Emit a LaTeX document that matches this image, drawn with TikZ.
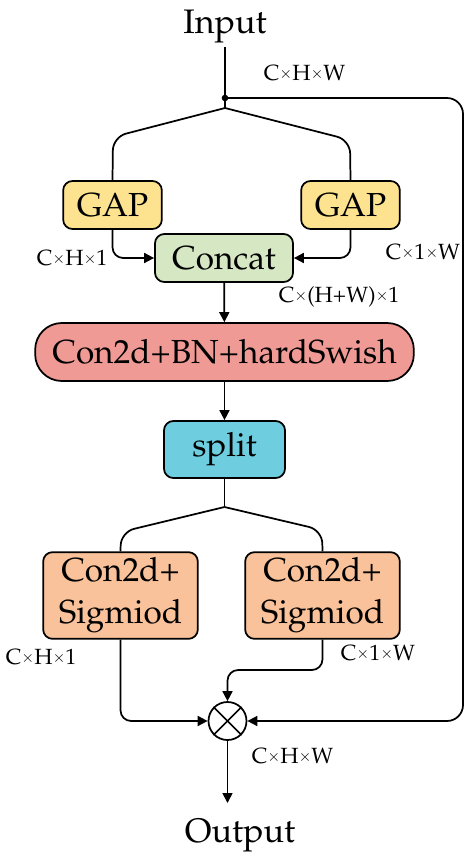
\documentclass[tikz,border=0pt]{standalone}
\usepackage[T1]{fontenc}
\usepackage{mathpazo}
\usepackage{graphicx}
\usepackage{tikz}
\usetikzlibrary{arrows.meta}
\newcommand{\dimsep}{\raisebox{0.12ex}{\scalebox{0.7}{$\times$}}}

\definecolor{gapfill}{HTML}{FDE28F}
\definecolor{catfill}{HTML}{D6E7C4}
\definecolor{convfill}{HTML}{EF9A94}
\definecolor{splitfill}{HTML}{6ECEDF}
\definecolor{sigfill}{HTML}{F9C29A}

\begin{document}
\begin{tikzpicture}[x=0.75pt, y=-0.75pt, line width=1.3pt,
    >={Triangle[length=7.5pt, width=7.5pt]},
    box/.style={draw, rounded corners=7pt, align=center, inner sep=0pt,
        font=\fontsize{25}{28}\selectfont},
    dims/.style={font=\fontsize{16.5}{18}\selectfont, anchor=base west, inner sep=0pt},
    io/.style={font=\fontsize{25.5}{28}\selectfont, anchor=base}]
    \useasboundingbox (0,0) rectangle (474,860);

    \node (In) [io] at (225,33) {Input};
    \fill (225,98) circle (3.3);
    \coordinate (Dot) at (225,98);
    \coordinate (Fork) at (225,108);

    \node (GapL) [box, fill=gapfill, minimum width=74pt, minimum height=36pt] at (112.5,205) {GAP};
    \node (GapR) [box, fill=gapfill, minimum width=74pt, minimum height=36pt] at (350.5,205) {GAP};
    \node (Cat) [box, fill=catfill, minimum width=103.5pt, minimum height=36pt] at (224,258) {Concat};
    \node (Conv) [box, rounded corners=20pt, fill=convfill, minimum width=284pt, minimum height=43.5pt] at (224.5,352) {Con2d+BN+hardSwish};
    \node (Split) [box, fill=splitfill, minimum width=90.75pt, minimum height=42.75pt] at (224.5,449.5) {split};
    \coordinate (Fork2) at (224.5,507);
    \node (SigL) [box, fill=sigfill, minimum width=116pt, minimum height=65pt] at (120.5,595.5) {Con2d+\\[3.5pt]Sigmiod};
    \node (SigR) [box, fill=sigfill, minimum width=116pt, minimum height=65pt] at (322.5,595.5) {Con2d+\\[3.5pt]Sigmiod};
    \node (Mul) [draw, circle, minimum size=28.5pt, inner sep=0pt] at (227.5,721) {};
    \coordinate (OutEnd) at (227.5,803);
    \node (Out) [io] at (240,842) {Output};

    % dimension labels
    \node (dIn) [dims] at (263,80) {C\dimsep H\dimsep W};
    \node (dGapL) [dims] at (36,265) {C\dimsep H\dimsep 1};
    \node (dGapR) [dims] at (385,259) {C\dimsep 1\dimsep W};
    \node (dCat) [dims] at (278,302) {C\dimsep(H+W)\dimsep 1};
    \node (dSigL) [dims] at (5,664) {C\dimsep H\dimsep 1};
    \node (dSigR) [dims] at (340,660) {C\dimsep 1\dimsep W};
    \node (dOut) [dims] at (251,763) {C\dimsep H\dimsep W};

    \draw (225,47) -- (Dot) -- (Fork);
    \draw[rounded corners=10pt] (Fork) -- (113,137) -- (GapL.north);
    \draw[rounded corners=10pt] (Fork) -- (350,140) -- (GapR.north);
    \draw[->, rounded corners=8pt] (GapL.south) |- (Cat.west);
    \draw[->, rounded corners=8pt] (GapR.south) |- (Cat.east);
    \draw[->] (Cat) -- (Conv);
    \draw[->] (Conv) -- (Split);
    \draw (Split) -- (Fork2);
    \draw[rounded corners=10pt] (Fork2) -- (121,532) -- (SigL.north);
    \draw[rounded corners=10pt] (Fork2) -- (322,530) -- (SigR.north);
    \draw[->, rounded corners=8pt] (SigL.south) |- (Mul.west);
    \draw[->, rounded corners=8pt] (SigR.south) -- (322.5,670) -- (227.5,670) -- (Mul.north);
    \draw[->, rounded corners=12pt] (Dot) -- (463,98) -- (463,721) -- (Mul.east);
    \draw (Mul.north west) -- (Mul.south east);
    \draw (Mul.north east) -- (Mul.south west);
    \draw[->] (Mul) -- (OutEnd);
\end{tikzpicture}
\end{document}
